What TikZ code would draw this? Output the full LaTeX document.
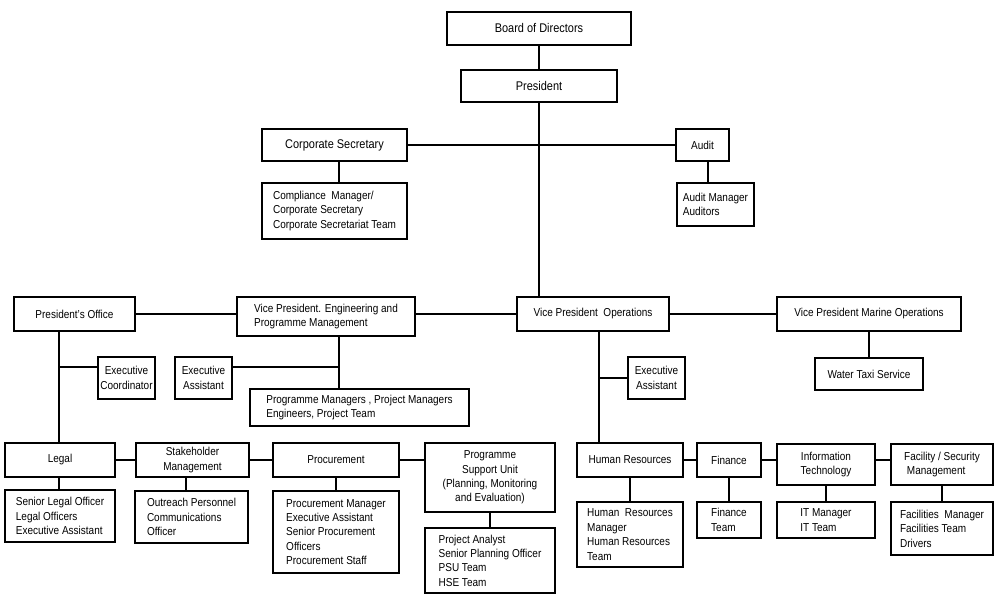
\documentclass[tikz,border=0pt]{standalone}
\usepackage{fontspec}
\setmainfont[FakeStretch=0.87]{Liberation Sans}
\newcommand\fsm{\fontsize{11.5}{14.4}\selectfont}
\newcommand\fbg{\fontsize{12.6}{15}\selectfont}
\begin{document}
\begin{tikzpicture}[x=1pt,y=-1pt,
  box/.style={draw, line width=2pt, inner sep=0pt, font=\fsm, align=center},
  bigbox/.style={box, font=\fbg},
  staff/.style={box, align=left},
  conn/.style={line width=2pt}]
\fill[white] (0,0) rectangle (1000,601);
\useasboundingbox (0,0) rectangle (1000,601);
% top
\node[bigbox, minimum width=184pt, minimum height=33pt] (bod) at (539,28.5) {Board of Directors};
\node[bigbox, minimum width=156pt, minimum height=32pt] (pres) at (539,86) {President};
\node[bigbox, minimum width=145pt, minimum height=32pt] (corpsec) at (334.5,145) {Corporate Secretary};
\node[box, minimum width=53pt, minimum height=32pt] (audit) at (702.5,145) {Audit};
\node[staff, minimum width=145pt, minimum height=56pt] (comp) at (334.5,211) {Compliance\ \ Manager/\\Corporate Secretary\\Corporate Secretariat Team};
\node[staff, minimum width=77pt, minimum height=43pt] (am) at (715.5,204.5) {Audit Manager\\Auditors};
% VP row
\node[box, minimum width=121pt, minimum height=34pt] (po) at (74.5,314) {President’s Office};
\node[box, align=left, minimum width=178pt, minimum height=39pt] (vpeng) at (326,316.5) {Vice President. Engineering and\\Programme Management};
\node[box, minimum width=152pt, minimum height=34pt] (vpops) at (593,314) {Vice President\ \ Operations};
\node[box, minimum width=184pt, minimum height=34pt] (vpm) at (869,314) {Vice President Marine Operations};
\node[box, minimum width=57pt, minimum height=42pt] (ec) at (126.5,378) {Executive\\Coordinator};
\node[box, minimum width=57pt, minimum height=42pt] (ea1) at (203.5,378) {Executive\\Assistant};
\node[staff, minimum width=219pt, minimum height=37pt] (pm) at (359.5,407.5) {Programme Managers , Project Managers\\Engineers, Project Team};
\node[box, minimum width=57pt, minimum height=42pt] (ea2) at (656.5,378) {Executive\\Assistant};
\node[box, minimum width=108pt, minimum height=32pt] (wt) at (869,374) {Water Taxi Service};
% bottom left
\node[box, minimum width=110pt, minimum height=34pt] (legal) at (60,460) {Legal};
\node[box, minimum width=113pt, minimum height=34pt] (stake) at (192.5,460) {Stakeholder\\Management};
\node[box, minimum width=126pt, minimum height=34pt] (proc) at (336,460) {Procurement};
\node[box, minimum width=130pt, minimum height=69pt] (psu) at (490,477.5) {Programme\\Support Unit\\(Planning, Monitoring\\and Evaluation)};
\node[staff, minimum width=110pt, minimum height=52pt] (legalst) at (60,516) {Senior Legal Officer\\Legal Officers\\Executive Assistant};
\node[staff, minimum width=113pt, minimum height=52pt] (stakest) at (191.5,517) {Outreach Personnel\\Communications\\Officer};
\node[staff, minimum width=126pt, minimum height=82pt] (procst) at (336,532) {Procurement Manager\\Executive Assistant\\Senior Procurement\\Officers\\Procurement Staff};
\node[staff, minimum width=130pt, minimum height=65pt] (psust) at (490,560.5) {Project Analyst\\Senior Planning Officer\\PSU Team\\HSE Team};
% bottom right
\node[box, minimum width=106pt, minimum height=34pt] (hr) at (630,460) {Human Resources};
\node[box, minimum width=64pt, minimum height=34pt] (fin) at (729,460) {Finance};
\node[box, minimum width=98pt, minimum height=41pt] (it) at (826,464.5) {Information\\Technology};
\node[box, align=left, minimum width=102pt, minimum height=41pt] (fac) at (942,464.5) {Facility / Security\\\ Management};
\node[staff, minimum width=106pt, minimum height=65pt] (hrst) at (630,534.5) {Human\ \ Resources\\Manager\\Human Resources\\Team};
\node[staff, minimum width=64pt, minimum height=36pt] (finst) at (729,520) {Finance\\Team};
\node[staff, minimum width=98pt, minimum height=36pt] (itst) at (826,520) {IT Manager\\IT Team};
\node[staff, minimum width=102pt, minimum height=53pt] (facst) at (942,528.5) {Facilities\ \ Manager\\Facilities Team\\Drivers};
% helper coordinates
\coordinate (csx) at (339,0);
\coordinate (aux) at (708,0);
\coordinate (pox) at (59,0);
\coordinate (r1) at (0,367);
\coordinate (engx) at (339,0);
\coordinate (opsx) at (599,0);
\coordinate (skx) at (186,0);
% connectors
\draw[conn] (bod.south) -- (pres.north);
\draw[conn] (pres.south) -- (pres.south |- vpops.north);
\draw[conn] (corpsec.east) -- (audit.west);
\draw[conn] (csx |- corpsec.south) -- (csx |- comp.north);
\draw[conn] (aux |- audit.south) -- (aux |- am.north);
\draw[conn] (po.east) -- (po.east -| vpeng.west);
\draw[conn] (vpops.west -| vpeng.east) -- (vpops.west);
\draw[conn] (vpops.east) -- (vpm.west);
\draw[conn] (vpm.south) -- (wt.north);
\draw[conn] (pox |- po.south) -- (pox |- legal.north);
\draw[conn] (pox |- r1) -- (ec.west |- r1);
\draw[conn] (engx |- vpeng.south) -- (engx |- pm.north);
\draw[conn] (ea1.east |- r1) -- (engx |- r1);
\draw[conn] (opsx |- vpops.south) -- (opsx |- hr.north);
\draw[conn] (opsx |- ea2.west) -- (ea2.west);
\draw[conn] (legal.east) -- (stake.west);
\draw[conn] (stake.east) -- (stake.east -| proc.west);
\draw[conn] (proc.east) -- (proc.east -| psu.west);
\draw[conn] (pox |- legal.south) -- (pox |- legalst.north);
\draw[conn] (skx |- stake.south) -- (skx |- stakest.north);
\draw[conn] (proc.south) -- (procst.north);
\draw[conn] (psu.south) -- (psust.north);
\draw[conn] (hr.east) -- (hr.east -| fin.west);
\draw[conn] (fin.east) -- (fin.east -| it.west);
\draw[conn] (fin.east -| it.east) -- (fin.east -| fac.west);
\draw[conn] (hr.south) -- (hrst.north);
\draw[conn] (fin.south) -- (finst.north);
\draw[conn] (it.south) -- (itst.north);
\draw[conn] (fac.south) -- (facst.north);
\end{tikzpicture}
\end{document}
